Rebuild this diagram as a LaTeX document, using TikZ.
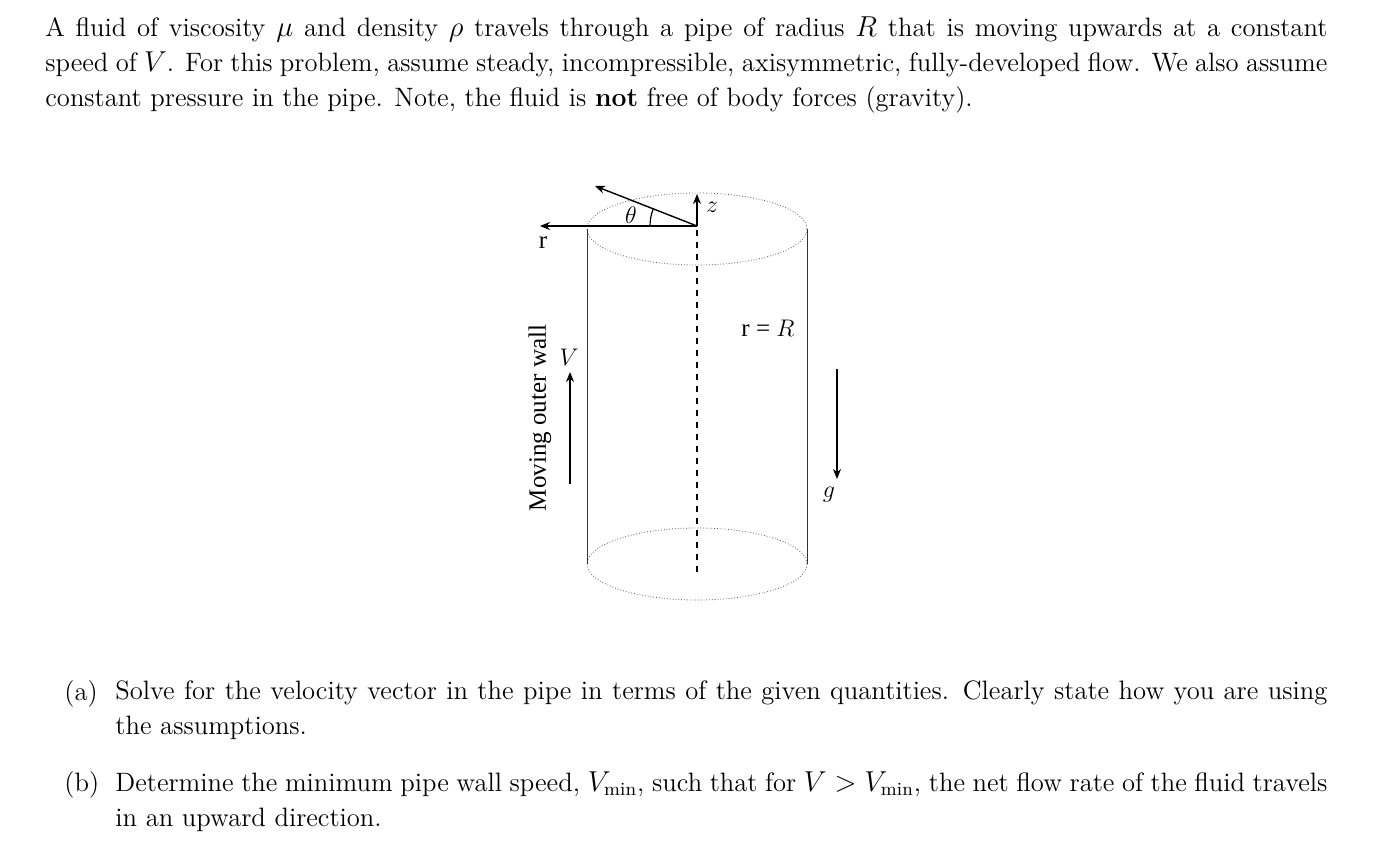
\documentclass[tikz,border=0pt]{standalone}
\usepackage{fontspec}
\usetikzlibrary{arrows.meta}
\newfontfamily\lserif{Liberation Serif}
\begin{document}
\begin{tikzpicture}[x=0.5pt,y=-0.5pt,
  para/.style={anchor=north west,inner sep=0pt,align=justify,font=\fontsize{13.3}{17.5}\selectfont},
  lbl/.style={inner sep=0pt,font=\lserif\fontsize{12.5}{14}\selectfont},
  arr/.style={-{Stealth[length=5pt,width=4pt]},line width=0.7pt},
  thick arr/.style={-{Stealth[length=5pt,width=4pt]},line width=1.4pt}]
\useasboundingbox (0,0) rectangle (1378,868);
\node[para,text width=641pt] (intro) at (45,16) {A fluid of viscosity $\mu$ and density $\rho$ travels through a pipe of radius $R$ that is moving upwards at a constant speed of $V$. For this problem, assume steady, incompressible, axisymmetric, fully-developed flow. We also assume constant pressure in the pipe. Note, the fluid is \textbf{not} free of body forces (gravity).};
% cylinder
\draw[densely dotted,gray!70!black] (697,229) ellipse [x radius=110,y radius=36];
\draw[densely dotted,gray!70!black] (697,564) ellipse [x radius=110,y radius=36];
\draw[gray!40!black,line width=0.5pt] (587,229) -- (587,564) (807,229) -- (807,564);
\coordinate (o) at (697,226);
\coordinate (ztip) at (697,194);
\coordinate (rtip) at (540,226);
\coordinate (ttip) at (595,186);
\coordinate (axbot) at (697,572);
\draw[dashed,line width=0.7pt] (axbot) -- (o);
\draw[arr] (o) -- (ztip);
\draw[arr] (o) -- (rtip);
\draw[arr] (o) -- (ttip);
\draw[line width=0.6pt] (650,226) arc[start angle=180,end angle=202,radius=47];
\node[lbl] (z) at (712,207) {$z$};
\node[lbl] (r) at (543,243) {r};
\node[lbl] (th) at (631,215) {$\theta$};
\node[lbl] (rR) at (768,328) {r = $R$};
\node[lbl,rotate=90] (mow) at (540,418) {Moving outer wall};
\node[lbl] (V) at (569,357) {$V$};
\coordinate (vb) at (570,484); \coordinate (vt) at (570,372);
\draw[thick arr] (vb) -- (vt);
\coordinate (gt) at (837,369); \coordinate (gb) at (837,479);
\draw[thick arr] (gt) -- (gb);
\node[lbl] (g) at (829,495) {$g$};
% questions
\node[para,anchor=north west] (qa) at (64,680) {(a)};
\node[para,text width=606pt] (ta) at (115,680) {Solve for the velocity vector in the pipe in terms of the given quantities. Clearly state how you are using the assumptions.};
\node[para,anchor=north west] (qb) at (64,771) {(b)};
\node[para,text width=606pt] (tb) at (115,771) {Determine the minimum pipe wall speed, $V_{\min}$, such that for $V>V_{\min}$, the net flow rate of the fluid travels in an upward direction.};
\end{tikzpicture}
\end{document}
